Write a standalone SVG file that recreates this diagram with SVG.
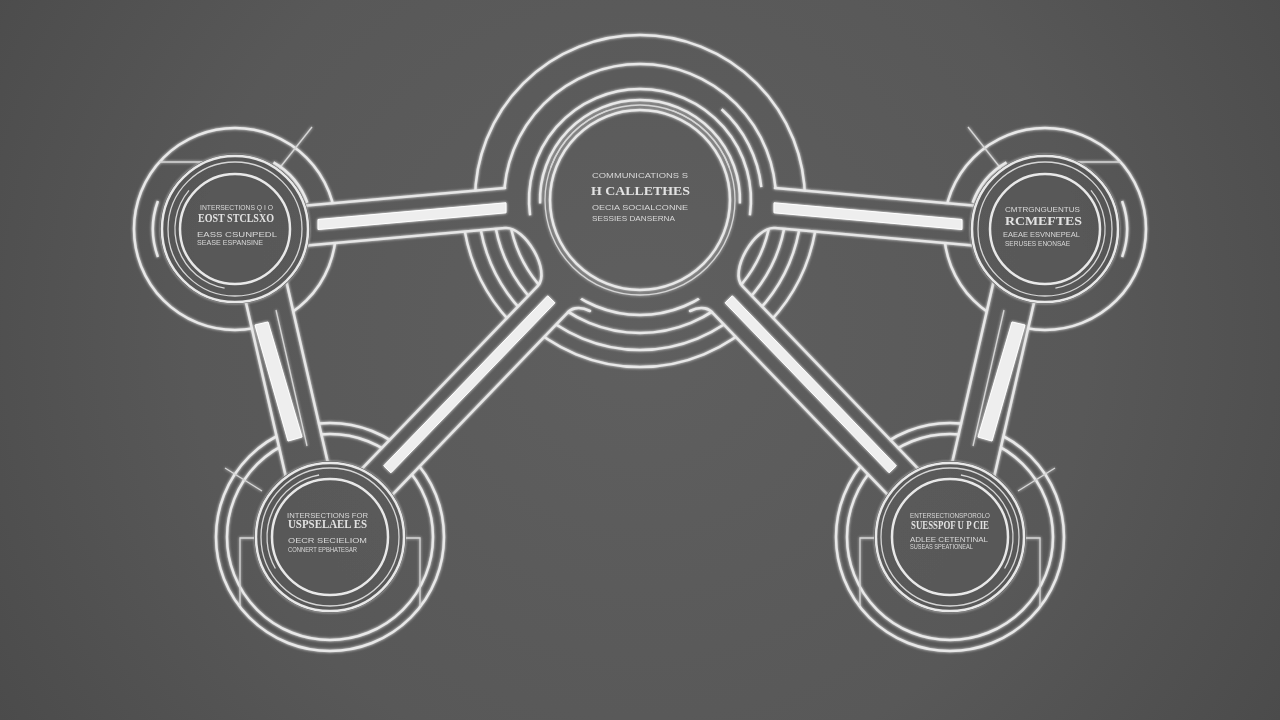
<svg xmlns="http://www.w3.org/2000/svg" width="1280" height="720" viewBox="0 0 1280 720">
<defs>
  <radialGradient id="bg" gradientUnits="userSpaceOnUse" cx="640" cy="330" r="820">
    <stop offset="0" stop-color="#5f5f5f"/>
    <stop offset="0.55" stop-color="#585858"/>
    <stop offset="1" stop-color="#484848"/>
  </radialGradient>
  <filter id="glow" x="-10%" y="-10%" width="120%" height="120%">
    <feGaussianBlur in="SourceGraphic" stdDeviation="1.6" result="b"/>
    <feMerge><feMergeNode in="b"/><feMergeNode in="SourceGraphic"/></feMerge>
  </filter>
  <style>
    .edge{fill:none;stroke:#e6e6e6;stroke-width:2.6;stroke-linecap:round;stroke-linejoin:round}
    .ring{fill:none;stroke:#e8e8e8;stroke-width:2.5}
    .thin{fill:none;stroke:#d6d6d6;stroke-width:1.3}
    .strip{fill:#eeeeee;stroke:#ffffff;stroke-width:1}
    .disk{fill:url(#bg);stroke:none}
    .sm{font-family:"Liberation Sans",Arial,sans-serif;fill:#d9d9d9;font-size:7px}
    .big{font-family:"Liberation Serif","Times New Roman",serif;fill:#e2e2e2;font-size:12px;font-weight:bold}
  </style>
  <polygon id="cutA" points="290,207 506,188 506,228 290,247"/>
  <polygon id="cutB" points="240.9,280.5 287.8,485.3 330.8,475.5 283.9,270.7"/>
  <polygon id="cutC" points="558.4,264.5 350.2,480.9 379,508.7 587.2,292.3"/>
  <mask id="cut" maskUnits="userSpaceOnUse" x="0" y="0" width="1280" height="720">
    <rect width="1280" height="720" fill="#fff"/>
    <g fill="#000">
      <use href="#cutA"/><use href="#cutB"/><use href="#cutC"/>
      <g transform="matrix(-1 0 0 1 1280 0)"><use href="#cutA"/><use href="#cutB"/><use href="#cutC"/></g>
    </g>
  </mask>

  <g id="conn-left">
    <path class="edge" d="M290,207 L505,188"/>
    <path class="edge" d="M290,247 L505,228 C525,226 551.5,271.7 537.6,286.1 L350.2,480.9"/>
    <path class="edge" d="M590,311 C578,305 570,309 566.4,313.9 L379,508.7"/>
    <path class="edge" d="M240.9,280.5 L287.8,485.3"/>
    <path class="edge" d="M283.9,270.7 L330.8,475.5"/>
    <path class="thin" d="M276,310 L307,446"/>
    <polygon class="strip" points="318,219.5 506,202.8 506,212.8 318,229.5"/>
    <polygon class="strip" points="255,325 268,322 302,437 288,441"/>
    <polygon class="strip" points="547.7,295.8 554.9,302.8 390.9,472.8 383.7,465.8"/>
  </g>

  <g id="center-half">
    <g mask="url(#cut)">
      <path class="ring" d="M475,200 A165,165 0 0 1 640,35"/>
      <path class="ring" d="M504,200 A136,136 0 0 1 640,64"/>
      <path class="ring" d="M530.1,215.4 A111,111 0 0 1 640,89"/>
      <path class="ring" d="M540.1,203.5 A100,100 0 0 1 640,100"/>
      <path class="ring" d="M543.5,290 A132,132 0 0 1 511.4,229.7"/>
      <path class="ring" d="M532.5,300.3 A147,147 0 0 1 495.7,228"/>
      <path class="ring" d="M521.5,310.5 A162,162 0 0 1 481,230.9"/>
      <path class="ring" d="M509.8,321.4 A178,178 0 0 1 464.7,230.9"/>
      <path class="ring" d="M640,315 A115,115 0 0 1 558.7,281.3"/>
      <path class="ring" d="M640,333 A133,133 0 0 1 546,294"/>
      <path class="ring" d="M640,350 A150,150 0 0 1 533.9,306.1"/>
      <path class="ring" d="M640,367 A167,167 0 0 1 521.9,318.1"/>
    </g>
    <path class="thin" d="M550.7,167.5 A95,95 0 0 1 607.5,110.7"/>
  </g>

  <g id="small-top">
    <g mask="url(#cut)">
      <circle class="ring" cx="235" cy="229" r="101"/>
      <path class="ring" d="M157.9,257 A82,82 0 0 1 157.9,201"/>
    </g>
    <path class="thin" d="M159.4,162 L206,162"/>
    <path class="thin" d="M278,170 L312,127"/>
    <circle class="disk" cx="235" cy="229" r="75"/>
    <circle class="ring" cx="235" cy="229" r="73"/>
    <circle class="thin" cx="235" cy="229" r="67"/>
    <circle class="ring" cx="235" cy="229" r="55" stroke-width="2.8"/>
    <path class="thin" d="M224.6,288.1 A60,60 0 0 1 189,190.4"/>
    <path class="ring" d="M273.5,162.3 A77,77 0 0 1 307.4,202.7"/>
  </g>

  <g id="small-bottom">
    <g mask="url(#cut)">
      <circle class="ring" cx="330" cy="537" r="114"/>
      <circle class="ring" cx="330" cy="537" r="103" stroke-width="2"/>
    </g>
    <path class="thin" d="M254,538 L240,538 L240,606"/>
    <path class="thin" d="M406,538 L420,538 L420,606"/>
    <path class="thin" d="M225,468 L262,491"/>
    <circle class="disk" cx="330" cy="537" r="76"/>
    <circle class="ring" cx="330" cy="537" r="74"/>
    <circle class="thin" cx="330" cy="537" r="69"/>
    <circle class="ring" cx="330" cy="537" r="58" stroke-width="2.8"/>
    <path class="thin" d="M275.4,568.5 A63,63 0 0 1 319.1,475"/>
  </g>
</defs>

<rect width="1280" height="720" fill="url(#bg)"/>

<g id="connectors" filter="url(#glow)">
  <use href="#conn-left"/>
  <use href="#conn-left" transform="matrix(-1 0 0 1 1280 0)"/>
</g>

<g id="node-center">
  <g filter="url(#glow)">
    <use href="#center-half"/>
    <use href="#center-half" transform="matrix(-1 0 0 1 1280 0)"/>
    <circle class="ring" cx="640" cy="200" r="90" stroke-width="2.8"/>
    <circle class="thin" cx="640" cy="200" r="95"/>
    <path class="ring" d="M721.6,109.3 A122,122 0 0 1 761.3,187.2"/>
  </g>
  <text class="sm" x="592" y="177.5" textLength="96" lengthAdjust="spacingAndGlyphs">COMMUNICATIONS S</text>
  <text class="big" x="591" y="195" font-size="16" textLength="99" lengthAdjust="spacingAndGlyphs">H CALLETHES</text>
  <text class="sm" x="592" y="210" font-size="8" textLength="96" lengthAdjust="spacingAndGlyphs">OECIA  SOCIALCONNE</text>
  <text class="sm" x="592" y="221" font-size="6.5" textLength="83" lengthAdjust="spacingAndGlyphs">SESSIES  DANSERNA</text>
</g>

<g id="node-top-left">
  <g filter="url(#glow)"><use href="#small-top"/></g>
  <text class="sm" x="200" y="210" textLength="73" lengthAdjust="spacingAndGlyphs">INTERSECTIONS Q I O</text>
  <text class="big" x="198" y="222" textLength="76" lengthAdjust="spacingAndGlyphs">EOST STCLSXO</text>
  <text class="sm" x="197" y="237" font-size="8" textLength="80" lengthAdjust="spacingAndGlyphs">EASS  CSUNPEDL</text>
  <text class="sm" x="197" y="245" font-size="6.5" textLength="66" lengthAdjust="spacingAndGlyphs">SEASE  ESPANSINE</text>
</g>

<g id="node-top-right">
  <g filter="url(#glow)"><use href="#small-top" transform="matrix(-1 0 0 1 1280 0)"/></g>
  <text class="sm" x="1005" y="212" font-size="8" textLength="75" lengthAdjust="spacingAndGlyphs">CMTRGNGUENTUS</text>
  <text class="big" x="1005" y="225" textLength="77" lengthAdjust="spacingAndGlyphs">RCMEFTES</text>
  <text class="sm" x="1003" y="237" font-size="8" textLength="77" lengthAdjust="spacingAndGlyphs">EAEAE  ESVNNEPEAL</text>
  <text class="sm" x="1005" y="246" font-size="6.5" textLength="65" lengthAdjust="spacingAndGlyphs">SERUSES  ENONSAE</text>
</g>

<g id="node-bottom-left">
  <g filter="url(#glow)"><use href="#small-bottom"/></g>
  <text class="sm" x="287" y="518" textLength="81" lengthAdjust="spacingAndGlyphs">INTERSECTIONS FOR</text>
  <text class="big" x="288" y="528" font-size="10" textLength="79" lengthAdjust="spacingAndGlyphs">USPSELAEL ES</text>
  <text class="sm" x="288" y="543" font-size="8" textLength="79" lengthAdjust="spacingAndGlyphs">OECR  SECIELIOM</text>
  <text class="sm" x="288" y="552" font-size="6" textLength="69" lengthAdjust="spacingAndGlyphs">CONNERT  EPBHATESAR</text>
</g>

<g id="node-bottom-right">
  <g filter="url(#glow)"><use href="#small-bottom" transform="matrix(-1 0 0 1 1280 0)"/></g>
  <text class="sm" x="910" y="518" textLength="80" lengthAdjust="spacingAndGlyphs">ENTERSECTIONSPOROLO</text>
  <text class="big" x="911" y="529" font-size="10" textLength="78" lengthAdjust="spacingAndGlyphs">SUESSPOF U P CIE</text>
  <text class="sm" x="910" y="542" font-size="8" textLength="78" lengthAdjust="spacingAndGlyphs">ADLEE  CETENTINAL</text>
  <text class="sm" x="910" y="549" font-size="6" textLength="63" lengthAdjust="spacingAndGlyphs">SUSEAS  SPEATIONEAL</text>
</g>
</svg>
